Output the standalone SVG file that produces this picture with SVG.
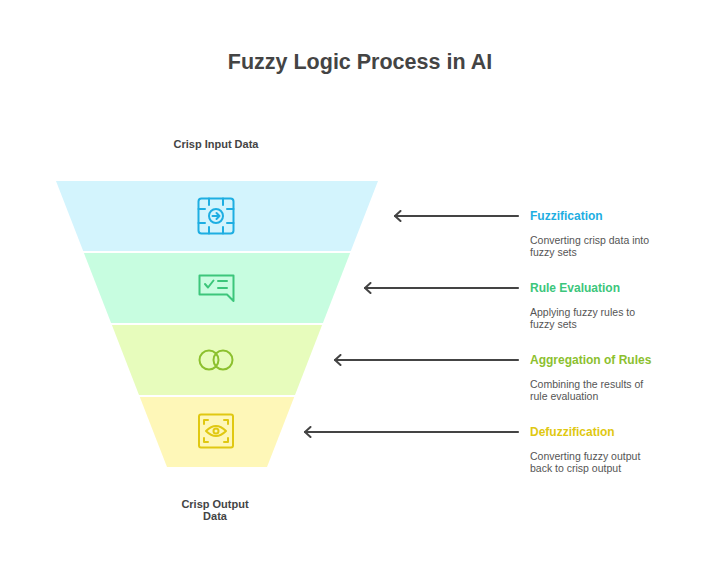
<svg xmlns="http://www.w3.org/2000/svg" width="720" height="561" viewBox="0 0 720 561">
<defs>
<style>
text{font-family:"Liberation Sans","DejaVu Sans",sans-serif;}
.title{font-size:21.5px;font-weight:bold;fill:#444;text-anchor:middle;}
.io{font-size:11px;font-weight:bold;fill:#444;text-anchor:middle;}
.h{font-size:12px;font-weight:bold;}
.d{font-size:10.5px;fill:#555;}
.conn{stroke:#444;stroke-width:2.2;fill:none;stroke-linecap:round;}
.ic{fill:none;stroke-width:2;stroke-linecap:round;stroke-linejoin:round;}
</style>
<marker id="ah" viewBox="0 0 12 12" refX="6.5" refY="6" markerWidth="12" markerHeight="12" markerUnits="userSpaceOnUse" orient="auto">
<path d="M1,1 L6.5,6 L1,11" fill="none" stroke="#444" stroke-width="2" stroke-linecap="round" stroke-linejoin="round"/>
</marker>
</defs>
<rect width="720" height="561" fill="#fff"/>
<text class="title" x="360" y="69">Fuzzy Logic Process in AI</text>
<text class="io" x="216" y="148">Crisp Input Data</text>
<text class="io" x="215" y="508">Crisp Output</text>
<text class="io" x="215" y="520">Data</text>

<g id="stage-fuzzification">
<polygon points="56,181 378,181 350.8,251 83.2,251" fill="#d3f4fd"/>
<g class="ic" stroke="#1eaee2">
<rect x="198.5" y="198.5" width="35" height="35" rx="3"/>
<circle cx="216" cy="216" r="7"/>
<path d="M212.5,216 H219.5 M216.5,213 L219.5,216 L216.5,219"/>
<path d="M209,198.5 V205 M223,198.5 V205 M209,227 V233.5 M223,227 V233.5 M198.5,209 H205 M198.5,223 H205 M227,209 H233.5 M227,223 H233.5"/>
</g>
</g>

<g id="stage-rule-evaluation">
<polygon points="83.9,253 350.1,253 322.9,323 111.1,323" fill="#c7fde0"/>
<g class="ic" stroke="#3cc67b">
<path d="M199.5,275.5 H233.5 V301 L227,294.5 H199.5 Z"/>
<path d="M205,284 L208,287.5 L213.5,280.5 M218,281 H227 M218,288 H227"/>
</g>
</g>

<g id="stage-aggregation">
<polygon points="111.9,325 322.1,325 295,395 139,395" fill="#e7fcbc"/>
<g class="ic" stroke="#8cc02e">
<circle cx="209" cy="360" r="9.5"/>
<circle cx="223" cy="360" r="9.5"/>
</g>
</g>

<g id="stage-defuzzification">
<polygon points="139.8,397 294.2,397 267,467 167,467" fill="#fef7b8"/>
<g class="ic" stroke="#e0c812">
<rect x="199" y="414.5" width="34" height="33" rx="2"/>
<path d="M204,424 V420 H208 M224,420 H228 V424 M204,438 V442 H208 M228,438 V442 H224"/>
<path d="M206,431 Q216,421 226,431 Q216,441 206,431 Z"/>
<circle cx="216" cy="431" r="2.5"/>
</g>
</g>

<g id="connectors">
<line class="conn" x1="518" y1="216" x2="395" y2="216" marker-end="url(#ah)"/>
<line class="conn" x1="518" y1="288" x2="365" y2="288" marker-end="url(#ah)"/>
<line class="conn" x1="518" y1="360" x2="335" y2="360" marker-end="url(#ah)"/>
<line class="conn" x1="518" y1="432" x2="305" y2="432" marker-end="url(#ah)"/>
</g>

<g id="label-fuzzification">
<text class="h" x="530" y="220" fill="#1eaee2">Fuzzification</text>
<text class="d" x="530" y="244">Converting crisp data into</text>
<text class="d" x="530" y="256">fuzzy sets</text>
</g>
<g id="label-rule-evaluation">
<text class="h" x="530" y="292" fill="#3cc67b">Rule Evaluation</text>
<text class="d" x="530" y="316">Applying fuzzy rules to</text>
<text class="d" x="530" y="328">fuzzy sets</text>
</g>
<g id="label-aggregation">
<text class="h" x="530" y="364" fill="#8cc02e">Aggregation of Rules</text>
<text class="d" x="530" y="388">Combining the results of</text>
<text class="d" x="530" y="400">rule evaluation</text>
</g>
<g id="label-defuzzification">
<text class="h" x="530" y="436" fill="#e0c812">Defuzzification</text>
<text class="d" x="530" y="460">Converting fuzzy output</text>
<text class="d" x="530" y="472">back to crisp output</text>
</g>
</svg>
